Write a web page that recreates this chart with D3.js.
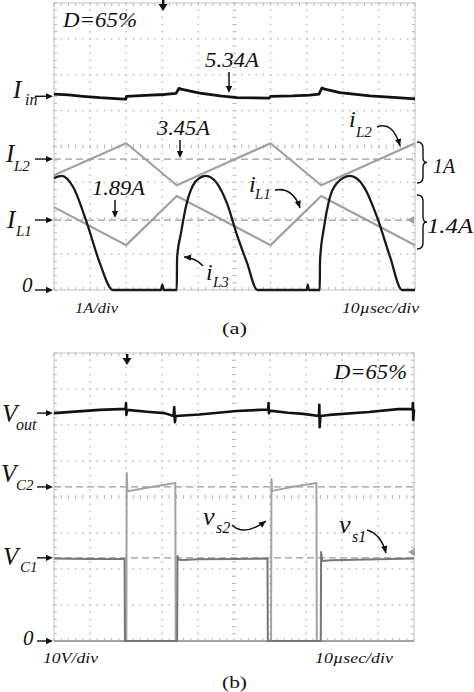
<!DOCTYPE html>
<html>
<head>
<meta charset="utf-8">
<script src="https://cdn.jsdelivr.net/npm/d3@7"></script>
<style>
body { margin: 0; background: #fff; }
text { font-family: "Liberation Serif", "Times New Roman", serif; font-style: italic; fill: #111; }
</style>
</head>
<body>
<svg id="chart" width="474" height="692"></svg>
<script>
// ---- data (time in usec, currents in A, voltages in V) ----
// panel (a): 1A/div, 10usec/div
var iInPts = [[0,5.46],[4,5.44],[8,5.40],[12.7,5.36],[18.3,5.33],[19.9,5.32],[20.1,5.40],[26.6,5.43],
  [30.7,5.45],[33.8,5.48],[34.6,5.62],[35.2,5.60],[40.4,5.49],[46,5.41],[50.7,5.36],[59.6,5.35],
  [60,5.40],[66,5.41],[70.9,5.43],[73.4,5.46],[74.2,5.63],[75,5.60],[79.2,5.50],[87.5,5.41],
  [94,5.37],[100,5.33]];
var iL2Pts = [[0,3.20],[20,4.09],[34,2.92],[60,4.09],[74,2.92],[100,4.09]];
var iL1Pts = [[0,2.31],[20,1.25],[34,2.62],[60,1.25],[74,2.62],[100,1.25]];
var iL3Pts = [[0,3.12],[2.2,3.18],[5.3,2.87],[9.1,1.87],[12.7,0.75],[16.3,0],[29.6,0],[30,0.15],
  [30.4,0],[34,0],[34.1,0.9],[35.2,1.6],[36.6,2.35],[38.4,2.9],[40.3,3.12],[42.1,3.18],[45.1,2.98],
  [47.9,2.42],[50.7,1.53],[53.5,0.75],[56.3,0],[70,0],[70.3,0.15],[70.6,0],[73.6,0],[73.7,0.84],
  [74.8,1.75],[76.2,2.5],[78.4,2.98],[82,3.18],[85.9,2.87],[89.5,2.03],[93.1,0.92],[96.4,0],[100,0]];
var iRefLevels = [3.65, 1.95];          // I_L2, I_L1 dashed levels
var iLevelLabels = [5.4, 3.65, 1.95, 0]; // I_in, I_L2, I_L1, 0

// panel (b): 10V/div, 10usec/div
var vOutPts = [[0,63.3],[12.7,64.2],[18.3,64.4],[19.9,64.4],[20.0,66.1],[20.1,62.8],[20.3,64.2],
  [26.6,63.6],[30.7,63.3],[33.2,62.5],[33.4,65.0],[33.6,60.8],[33.8,62.5],[40.4,62.9],[50.7,63.9],
  [59.5,64.3],[59.6,66.1],[59.7,63.3],[59.9,64.0],[65,63.4],[69.2,63.1],[73.6,62.5],[73.7,65.6],
  [73.8,59.4],[74,62.5],[76.5,62.8],[87.5,63.6],[95.6,64.4],[99.6,64.4],[99.7,66.1],[99.8,61.4],[100,64.4]];
var vS1Pts = [[0,22.9],[10,22.8],[19.6,22.8],[19.7,0],[34.2,0],[34.3,23.6],[34.6,22.6],[36,22.5],
  [40,22.7],[50,22.8],[59.3,22.9],[59.4,0],[74.1,0],[74.2,24.7],[74.5,22.2],[77,22.4],[90,22.7],[100,22.9]];
var vS2Pts = [[0,0],[20.1,0],[20.2,46.7],[20.4,41.6],[22,41.9],[27,42.8],[33.7,43.9],[33.8,0],
  [60.3,0],[60.4,45],[60.6,41.7],[66,42.8],[72.9,43.9],[73.0,0],[100,0]];
var vRefLevels = [42.8, 23.1];           // V_C2, V_C1
var vLevelLabels = [63.3, 42.8, 23.1, 0];

var svg = d3.select("#chart");
svg.append("rect").attr("width", 474).attr("height", 692).attr("fill", "#fff");

var xa = d3.scaleLinear().domain([0, 100]).range([54, 415]);
var ya = d3.scaleLinear().domain([0, 8]).range([290, 3]);
var xb = d3.scaleLinear().domain([0, 100]).range([54, 414]);
var yb = d3.scaleLinear().domain([0, 80]).range([641, 353]);

// oscilloscope graticule
function grid(x, y) {
  var g = svg.append("g");
  var top = y.domain()[1];
  var xMaj = d3.range(10, 100, 10);
  var yMaj = y.ticks(8).filter(function(v) { return v > 0 && v < top; });
  var xMin = d3.range(0, 100.001, 2);
  var yMin = d3.range(0, 41).map(function(i) { return top * i / 40; });
  var yMid = top / 2;

  g.selectAll(".vd").data(d3.cross(xMaj.filter(function(t) { return t !== 50; }), yMin))
    .join("rect").attr("class", "vd")
    .attr("x", function(d) { return x(d[0]) - 0.7; })
    .attr("y", function(d) { return y(d[1]) - 0.7; })
    .attr("width", 1.4).attr("height", 1.4).attr("fill", "#b5b5b5");
  g.selectAll(".hd").data(d3.cross(yMaj.filter(function(v) { return v !== yMid; }), xMin))
    .join("rect").attr("class", "hd")
    .attr("x", function(d) { return x(d[1]) - 0.7; })
    .attr("y", function(d) { return y(d[0]) - 0.7; })
    .attr("width", 1.4).attr("height", 1.4).attr("fill", "#b5b5b5");

  // centre lines with small ticks
  g.selectAll(".cv").data(yMin).join("line").attr("class", "cv")
    .attr("x1", x(50) - 2).attr("x2", x(50) + 2)
    .attr("y1", function(v) { return y(v); }).attr("y2", function(v) { return y(v); })
    .attr("stroke", "#b5b5b5").attr("stroke-width", 1);
  g.selectAll(".ch").data(xMin).join("line").attr("class", "ch")
    .attr("y1", y(yMid) - 2).attr("y2", y(yMid) + 2)
    .attr("x1", function(t) { return x(t); }).attr("x2", function(t) { return x(t); })
    .attr("stroke", "#b5b5b5").attr("stroke-width", 1);

  // frame and its ticks
  g.append("rect")
    .attr("x", x(0)).attr("y", y(top))
    .attr("width", x(100) - x(0)).attr("height", y(0) - y(top))
    .attr("fill", "none").attr("stroke", "#c2c2c2").attr("stroke-width", 1);
  [[y(top), 3], [y(0), -3]].forEach(function(e) {
    g.selectAll(null).data(xMin).join("line")
      .attr("x1", function(t) { return x(t); }).attr("x2", function(t) { return x(t); })
      .attr("y1", e[0]).attr("y2", e[0] + e[1])
      .attr("stroke", "#b8b8b8");
  });
  [[x(0), 3], [x(100), -3]].forEach(function(e) {
    g.selectAll(null).data(yMin).join("line")
      .attr("y1", function(v) { return y(v); }).attr("y2", function(v) { return y(v); })
      .attr("x1", e[0]).attr("x2", e[0] + e[1])
      .attr("stroke", "#b8b8b8");
  });
}

function refLines(x, y, levels) {
  svg.append("g").selectAll("line").data(levels).join("line")
    .attr("x1", x(0)).attr("x2", x(100))
    .attr("y1", function(v) { return y(v); }).attr("y2", function(v) { return y(v); })
    .attr("stroke", "#9a9a9a").attr("stroke-width", 1.3).attr("stroke-dasharray", "7,4");
}

function trace(x, y, pts, color, w, curve) {
  var line = d3.line()
    .x(function(d) { return x(d[0]); })
    .y(function(d) { return y(d[1]); })
    .curve(curve || d3.curveLinear);
  svg.append("path").datum(pts).attr("d", line)
    .attr("fill", "none").attr("stroke", color).attr("stroke-width", w)
    .attr("stroke-linejoin", "round");
}

function head(x, y, fx, fy, len, color) {
  var a = Math.atan2(y - fy, x - fx), hw = len * 0.45;
  var bx = x - len * Math.cos(a), by = y - len * Math.sin(a);
  svg.append("path")
    .attr("d", "M" + x + "," + y +
      "L" + (bx + hw * Math.sin(a)) + "," + (by - hw * Math.cos(a)) +
      "L" + (bx - hw * Math.sin(a)) + "," + (by + hw * Math.cos(a)) + "Z")
    .attr("fill", color || "#111");
}

// quadratic/cubic arrow: pts = [start, c1, (c2,) end]
function arrow(pts, len) {
  var d = "M" + pts[0];
  if (pts.length === 3) d += "Q" + pts[1] + " " + pts[2];
  else d += "C" + pts[1] + " " + pts[2] + " " + pts[3];
  svg.append("path").attr("d", d).attr("fill", "none")
    .attr("stroke", "#111").attr("stroke-width", 1.5);
  var e = pts[pts.length - 1], c = pts[pts.length - 2];
  head(e[0], e[1], c[0], c[1], len || 7);
}

function downArrow(x, y1, y2) {
  svg.append("line").attr("x1", x).attr("x2", x).attr("y1", y1).attr("y2", y2 - 5)
    .attr("stroke", "#111").attr("stroke-width", 1.5);
  head(x, y2, x, y1, 7);
}

function txt(x, y, s, size, len, upright) {
  var t = svg.append("text").attr("x", x).attr("y", y).attr("font-size", size).text(s);
  if (len) t.attr("textLength", len).attr("lengthAdjust", "spacingAndGlyphs");
  if (upright) t.style("font-style", "normal");
  return t;
}

function levelLabel(lx, ly, main, sub, sx, sy, mainSize, subSize) {
  txt(lx, ly, main, mainSize);
  txt(sx, sy, sub, subSize);
}

function leftArrows(y, levels, x1) {
  levels.forEach(function(v) {
    svg.append("line").attr("x1", x1).attr("x2", 48).attr("y1", y(v)).attr("y2", y(v))
      .attr("stroke", "#111").attr("stroke-width", 1.4);
    head(53, y(v), 40, y(v), 7);
  });
}

function trigger(x, y0) {
  svg.append("rect").attr("x", x - 1).attr("y", y0).attr("width", 2.4).attr("height", 5).attr("fill", "#111");
  svg.append("path").attr("d", "M" + (x - 4.5) + "," + (y0 + 4) + "L" + (x + 4.5) + "," + (y0 + 4) +
    "L" + x + "," + (y0 + 11) + "Z").attr("fill", "#111");
}

function grayMark(x, y) {
  svg.append("path").attr("d", "M" + (x - 7) + "," + y + "L" + x + "," + (y - 4) + "L" + x + "," + (y + 4) + "Z")
    .attr("fill", "#a0a0a0");
}

function brace(x, t, b) {
  var m = (t + b) / 2;
  svg.append("path")
    .attr("d", "M" + x + "," + t + "Q" + (x + 6) + "," + t + " " + (x + 6) + "," + (t + 6) +
      "L" + (x + 6) + "," + (m - 5) + "Q" + (x + 6) + "," + m + " " + (x + 10) + "," + m +
      "Q" + (x + 6) + "," + m + " " + (x + 6) + "," + (m + 5) +
      "L" + (x + 6) + "," + (b - 6) + "Q" + (x + 6) + "," + b + " " + x + "," + b)
    .attr("fill", "none").attr("stroke", "#111").attr("stroke-width", 1.4);
}

// ---------------- panel (a) ----------------
grid(xa, ya);
refLines(xa, ya, iRefLevels);
trace(xa, ya, iL2Pts, "#a0a0a0", 2.2);
trace(xa, ya, iL1Pts, "#a0a0a0", 2.2);
trace(xa, ya, iL3Pts, "#1a1a1a", 2.3, d3.curveMonotoneX);
trace(xa, ya, iInPts, "#111", 2.8);
trigger(163, 0);
grayMark(414, ya(iRefLevels[1]));

txt(63, 27, "D=65%", 20, 74);
txt(205, 67, "5.34A", 20, 54);
downArrow(229, 72, 93);
txt(157, 135, "3.45A", 20, 53);
downArrow(180, 140, 158);
txt(92, 195, "1.89A", 20, 53);
downArrow(115, 200, 218);

leftArrows(ya, iLevelLabels, 35);
levelLabel(13, 98, "I", "in", 25, 105, 25, 16);
levelLabel(6, 162, "I", "L2", 14, 171, 25, 15);
levelLabel(7, 228, "I", "L1", 16, 236, 25, 15);
txt(22, 292, "0", 21);

levelLabel(349, 127, "i", "L2", 356, 137, 24, 15);
arrow([[377, 127], [393, 121], [400, 146]]);
levelLabel(249, 192, "i", "L1", 255, 199, 24, 15);
arrow([[275, 190], [293, 187], [300, 208]]);
levelLabel(206, 280, "i", "L3", 213, 287, 24, 15);
arrow([[203, 266], [196, 258], [184, 257]]);

brace(417, 142, 183);
txt(433, 173, "1A", 20, 22);
brace(417, 195, 249);
txt(427, 233, "1.4A", 20, 46);

txt(75, 313, "1A/div", 15, 43);
txt(342, 313, "10\u00b5sec/div", 15, 77);
txt(222, 334, "(a)", 17, 25, true);

// ---------------- panel (b) ----------------
grid(xb, yb);
refLines(xb, yb, vRefLevels);
trace(xb, yb, vS2Pts, "#a3a3a3", 2);
trace(xb, yb, vS1Pts, "#777", 2);
trace(xb, yb, vOutPts, "#111", 2.6);
trigger(127, 354);
grayMark(415, 552);

txt(334, 379, "D=65%", 20, 73);

leftArrows(yb, vLevelLabels, 37);
levelLabel(2, 422, "V", "out", 16, 430, 25, 16);
levelLabel(1, 482, "V", "C2", 16, 490, 25, 15);
levelLabel(3, 565, "V", "C1", 20, 572, 25, 15);
txt(23, 645, "0", 21);

levelLabel(203, 525, "v", "s2", 216, 533, 26, 16);
arrow([[232, 525], [240, 533], [252, 531], [266, 521]]);
levelLabel(339, 533, "v", "s1", 352, 542, 26, 16);
arrow([[367, 530], [381, 534], [386, 553]]);

txt(43, 663, "10V/div", 15, 55);
txt(315, 663, "10\u00b5sec/div", 15, 78);
txt(222, 688, "(b)", 17, 25, true);
</script>
</body>
</html>
